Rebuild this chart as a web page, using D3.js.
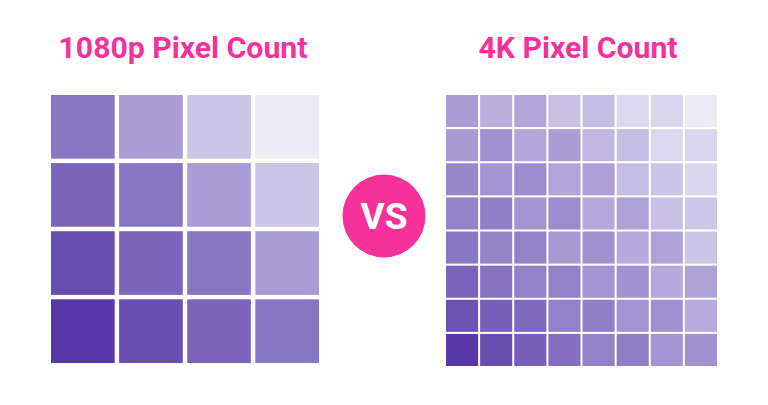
<!DOCTYPE html>
<html>
<head>
<meta charset="utf-8">
<script src="https://cdnjs.cloudflare.com/ajax/libs/d3/7.8.5/d3.min.js"></script>
<style>
    html, body { margin: 0; background: #fff; }
    svg { display: block; }
    text { font-family: Roboto, sans-serif; font-weight: 700; }
</style>
</head>
<body>
<script>
// Shade of each cell, 0 = palest, 1 = darkest
const titles = ["1080p Pixel Count", "4K Pixel Count"];
const badge = "VS";

const shades1080 = [
    [0.68, 0.45, 0.23, 0.00],
    [0.77, 0.68, 0.45, 0.23],
    [0.90, 0.77, 0.68, 0.45],
    [1.00, 0.90, 0.77, 0.68]
];

const shades4k = [
    [0.45, 0.35, 0.40, 0.25, 0.27, 0.12, 0.13, 0.00],
    [0.47, 0.52, 0.40, 0.45, 0.30, 0.27, 0.12, 0.13],
    [0.58, 0.50, 0.55, 0.40, 0.43, 0.27, 0.23, 0.13],
    [0.60, 0.63, 0.50, 0.55, 0.38, 0.42, 0.25, 0.22],
    [0.68, 0.60, 0.62, 0.47, 0.52, 0.38, 0.42, 0.23],
    [0.78, 0.70, 0.62, 0.62, 0.50, 0.52, 0.38, 0.42],
    [0.88, 0.80, 0.75, 0.62, 0.63, 0.50, 0.52, 0.37],
    [1.00, 0.90, 0.80, 0.72, 0.62, 0.63, 0.50, 0.52]
];

const width = 768;
const height = 405;
const pink = "#f7319a";

const color = d3.scaleLinear()
    .domain([0, 0.23, 0.45, 0.68, 0.77, 0.90, 1])
    .range(["#edebf6", "#cbc5e6", "#aa9dd5", "#8877c2", "#7a65bb", "#674fb0", "#5838a6"]);

const svg = d3.select("body").append("svg")
    .attr("width", width)
    .attr("height", height)
    .attr("viewBox", [0, 0, width, height]);

function drawGrid(shades, left, right, top, bottom, gap) {
    const n = shades.length;
    const x = d3.scaleBand().domain(d3.range(n)).range([left, right]).paddingInner(gap);
    const y = d3.scaleBand().domain(d3.range(n)).range([top, bottom]).paddingInner(gap);

    const cells = shades.flatMap((row, r) => row.map((v, c) => ({ r, c, v })));

    svg.append("g")
        .selectAll("rect")
        .data(cells)
        .join("rect")
        .attr("x", d => x(d.c))
        .attr("y", d => y(d.r))
        .attr("width", x.bandwidth())
        .attr("height", y.bandwidth())
        .attr("fill", d => color(d.v));
}

drawGrid(shades1080, 51, 319, 95, 363, 0.065);
drawGrid(shades4k, 446, 717, 95, 366, 0.06);

svg.selectAll("text.title")
    .data(titles)
    .join("text")
    .attr("class", "title")
    .attr("x", (d, i) => [183, 578][i])
    .attr("y", 58)
    .attr("text-anchor", "middle")
    .attr("font-size", 30.2)
    .attr("fill", pink)
    .text(d => d);

svg.append("circle")
    .attr("cx", 384)
    .attr("cy", 216)
    .attr("r", 41.5)
    .attr("fill", pink);

svg.append("text")
    .attr("x", 384)
    .attr("y", 229)
    .attr("text-anchor", "middle")
    .attr("font-size", 37)
    .attr("fill", "#fff")
    .text(badge);
</script>
</body>
</html>
